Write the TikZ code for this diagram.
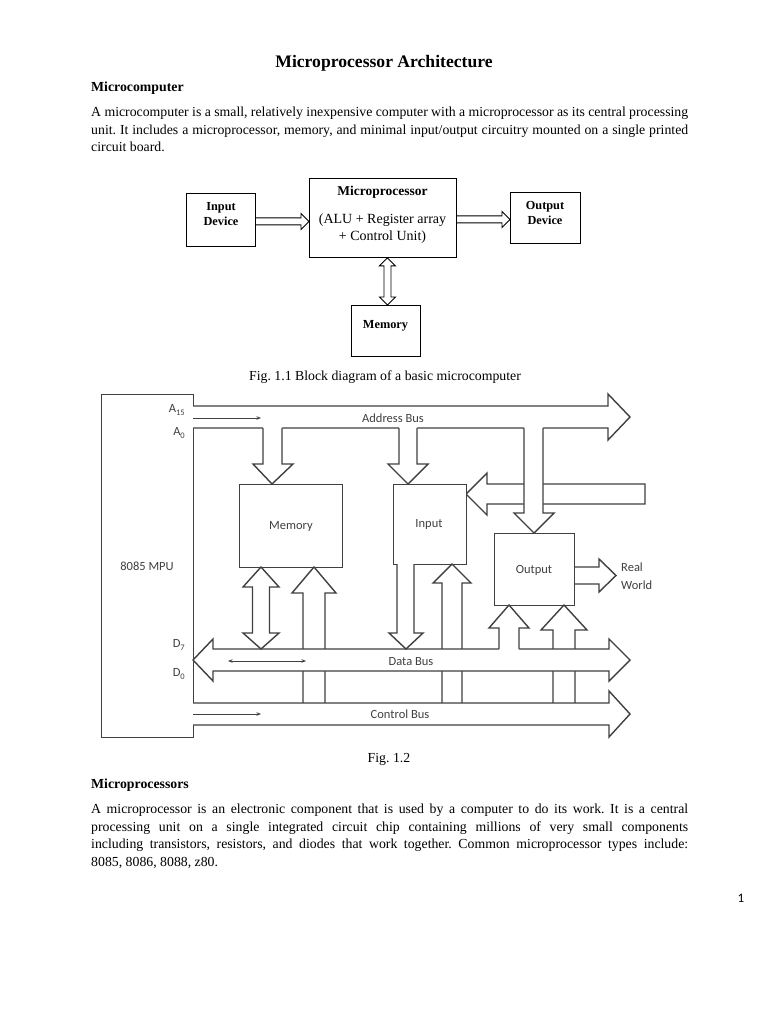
\documentclass[tikz,border=0pt]{standalone}
\usepackage{fontspec}
\setmainfont{Liberation Serif}
\newfontfamily\carl{Carlito}
\usetikzlibrary{arrows.meta}
\colorlet{gc}{black!75}
\frenchspacing
\newcommand\jline[1]{\makebox[597pt][s]{#1}}
\newcommand\subs[1]{\raisebox{-0.3em}{\fontsize{8.5}{9}\selectfont #1}}
% block arrow: x1,x2, ys(draw start), yf(fill start), wing y, wing xl, wing xr, tip x, tip y
\newcommand\myarrow[9]{%
  \fill[white] (#1,#4) -- (#1,#5) -- (#6,#5) -- (#8,#9) -- (#7,#5) -- (#2,#5) -- (#2,#4) -- cycle;
  \draw[g] (#1,#3) -- (#1,#5) -- (#6,#5) -- (#8,#9) -- (#7,#5) -- (#2,#5) -- (#2,#3);}
% hollow right-pointing arrow between two named coordinates
\newcommand\rarr[2]{%
  \draw[thinblk] ([shift={(0,-3.5)}]#1) -- ([shift={(-8,-3.5)}]#2) -- ([shift={(-8,-8)}]#2) -- (#2)
    -- ([shift={(-8,8)}]#2) -- ([shift={(-8,3.5)}]#2) -- ([shift={(0,3.5)}]#1);}
\begin{document}
\begin{tikzpicture}[x=1pt,y=-1pt,
  body/.style={inner sep=0pt,font=\fontsize{13.8}{17.5}\selectfont},
  bodyb/.style={inner sep=0pt,font=\fontsize{13.8}{17.5}\selectfont\bfseries},
  bk/.style={draw=black,line width=0.9pt,fill=white,inner sep=0pt,anchor=north west},
  thinblk/.style={draw=black,line width=0.9pt,line join=miter},
  bt/.style={inner sep=0pt,align=center,font=\fontsize{12.3}{15}\selectfont\bfseries},
  g/.style={draw=gc,line width=1.4pt,line join=miter},
  gbox/.style={draw=gc,line width=1.4pt,fill=white,inner sep=0pt,anchor=north west},
  gl/.style={inner sep=0pt,text=gc,font=\carl\fontsize{12.5}{15}\selectfont},
  sm/.style={draw=gc,line width=0.9pt},
]
\useasboundingbox[fill=white] (0,0) rectangle (768,1024);

% ---------- text ----------
\node[inner sep=0pt,font=\fontsize{17.6}{20}\selectfont\bfseries,anchor=base] (title) at (384,68) {Microprocessor Architecture};
\node[bodyb,anchor=base west] (h1) at (91,92) {Microcomputer};
\node[body,anchor=base west] (p1a) at (91,117) {\jline{A microcomputer is a small, relatively inexpensive computer with a microprocessor as its central processing}};
\node[body,anchor=base west] (p1b) at (91,134.5) {\jline{unit. It includes a microprocessor, memory, and minimal input/output circuitry mounted on a single printed}};
\node[body,anchor=base west] (p1c) at (91,152) {circuit board.};

\node[body,anchor=base] (cap1) at (385,380) {Fig. 1.1 Block diagram of a basic microcomputer};
\node[body,anchor=base] (cap2) at (389,762) {Fig. 1.2};
\node[bodyb,anchor=base west] (h2) at (91,788) {Microprocessors};
\node[body,anchor=base west] (p2a) at (91,813.5) {\jline{A microprocessor is an electronic component that is used by a computer to do its work. It is a central}};
\node[body,anchor=base west] (p2b) at (91,831) {\jline{processing unit on a single integrated circuit chip containing millions of very small components}};
\node[body,anchor=base west] (p2c) at (91,848.5) {\jline{including transistors, resistors, and diodes that work together. Common microprocessor types include:}};
\node[body,anchor=base west] (p2d) at (91,866) {8085, 8086, 8088, z80.};
\node[inner sep=0pt,font=\carl\fontsize{13}{15}\selectfont] (pg) at (741,898) {1};

% ---------- Fig 1.1 ----------
\node[bk,minimum width=69pt,minimum height=53pt] (inp) at (186,193) {};
\node[bt] (inpT) at (221,214.5) {Input\\Device};
\node[bk,minimum width=147pt,minimum height=79pt] (mp) at (309,178) {};
\node[inner sep=0pt,font=\fontsize{13.5}{15}\selectfont\bfseries] (mpT) at (382.5,192) {Microprocessor};
\node[inner sep=0pt,align=center,font=\fontsize{14}{17}\selectfont] (mpS) at (382.5,228.5) {(ALU + Register array\\+ Control Unit)};
\node[bk,minimum width=70pt,minimum height=51pt] (out) at (510,192) {};
\node[bt] (outT) at (545,213) {Output\\Device};
\node[bk,minimum width=69pt,minimum height=51pt] (mem) at (351,305) {};
\node[bt] (memT) at (385.5,326) {Memory};
\coordinate (a1s) at ([yshift=-1.5pt]inp.east);
\coordinate (a1e) at (a1s -| mp.west);
\coordinate (a2e) at ([yshift=-1.5pt]out.west);
\coordinate (a2s) at (a2e -| mp.east);
\rarr{a1s}{a1e}
\rarr{a2s}{a2e}
\coordinate (mb) at ([xshift=1.5pt]mem.north);
\coordinate (mt) at (mb |- mp.south);
\draw[thinblk] (mt) -- ([shift={(8,8)}]mt) -- ([shift={(3.5,8)}]mt) -- ([shift={(3.5,-8)}]mb) -- ([shift={(8,-8)}]mb) -- (mb)
  -- ([shift={(-8,-8)}]mb) -- ([shift={(-3.5,-8)}]mb) -- ([shift={(-3.5,8)}]mt) -- ([shift={(-8,8)}]mt) -- cycle;

% ---------- Fig 1.2 ----------
\node[gbox,minimum width=92pt,minimum height=343pt] (mpu) at (101,394) {};
\node[gl] (mpuT) at (147,566) {8085 MPU};

% address bus
\fill[white] (193,406) -- (608,406) -- (608,394) -- (630,417) -- (608,440) -- (608,428) -- (193,428) -- cycle;
\draw[g] (193,406) -- (608,406) -- (608,394) -- (630,417) -- (608,440) -- (608,428) -- (193,428);
\myarrow{263}{282}{428}{426.5}{464}{253}{293}{272}{484}
\myarrow{399}{417}{428}{426.5}{464}{388}{428}{408}{484}
% arrow into input from the right
\draw[g,fill=white] (645,484) -- (487,484) -- (487,473) -- (466,494) -- (487,515) -- (487,504) -- (645,504) -- cycle;
\myarrow{524}{543}{428}{426.5}{513}{514}{554}{534}{533}

\node[gbox,minimum width=103pt,minimum height=83pt] (memB) at (239,484) {};
\node[gl] (memL) at (291,526) {Memory};
\node[gbox,minimum width=73pt,minimum height=80pt] (inB) at (393,484) {};
\node[gl] (inL) at (429,524) {Input};
\node[gbox,minimum width=80pt,minimum height=72pt] (outB) at (494,533) {};
\node[gl] (outL) at (534,570) {Output};

% real world
\draw[g] (574,567) -- (599,567) -- (599,559) -- (616,575.5) -- (599,592) -- (599,584) -- (574,584);
\node[gl,anchor=west] (rw1) at (621,567) {Real};
\node[gl,anchor=west] (rw2) at (621,585) {World};

% shafts from control bus crossing data bus
\myarrow{303}{325}{703}{703}{593}{292}{336}{314}{567}
\myarrow{442}{462}{703}{703}{583}{433}{471}{452}{564}
\myarrow{553}{575}{703}{703}{630}{541}{587}{564}{605}

% data bus
\draw[g,fill=white] (609,649) -- (213,649) -- (213,639) -- (193,660) -- (213,681) -- (213,671) -- (609,671) -- (609,681) -- (630,660) -- (609,639) -- cycle;
\myarrow{499}{519}{649}{650.5}{628}{489}{529}{509}{605}

% control bus
\fill[white] (193,703) -- (609,703) -- (609,691) -- (630,714) -- (609,737) -- (609,725) -- (193,725) -- cycle;
\draw[g] (193,703) -- (609,703) -- (609,691) -- (630,714) -- (609,737) -- (609,725) -- (193,725);

% memory bidirectional, input down
\draw[g,fill=white] (261,567) -- (279,587) -- (269.5,587) -- (269.5,633) -- (279,633) -- (261,649) -- (243,633) -- (252.5,633) -- (252.5,587) -- (243,587) -- cycle;
\myarrow{397}{414}{564}{564}{633}{389}{423}{406}{649}

% small arrows
\draw[sm,-{Stealth[length=4.5pt,width=3.5pt]}] (193,418) -- (261,418);
\draw[sm,-{Stealth[length=4.5pt,width=3.5pt]}] (193,714) -- (261,714);
\draw[sm,{Stealth[length=4.5pt,width=3.5pt]}-{Stealth[length=4.5pt,width=3.5pt]}] (228,661) -- (306,661);

% labels
\node[gl,anchor=east] (a15) at (185,410) {A\subs{15}};
\node[gl,anchor=east] (a0) at (185,433) {A\subs{0}};
\node[gl,anchor=east] (d7) at (185,645) {D\subs{7}};
\node[gl,anchor=east] (d0) at (185,674) {D\subs{0}};
\node[gl] (abus) at (393,418) {Address Bus};
\node[gl] (dbus) at (411,662) {Data Bus};
\node[gl] (cbus) at (400,714) {Control Bus};
\end{tikzpicture}
\end{document}
